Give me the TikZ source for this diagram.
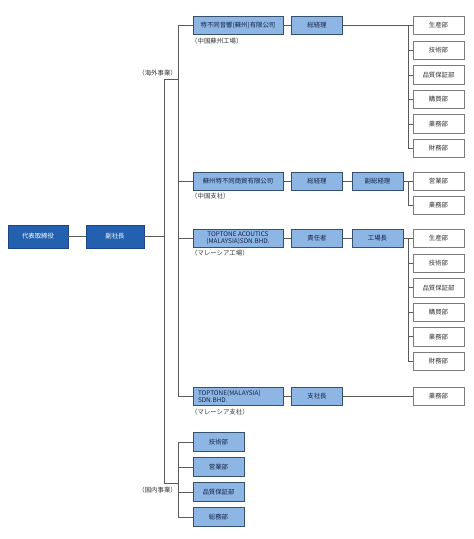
\documentclass[tikz,border=0pt]{standalone}
\usepackage{fontspec}
\setmainfont{Noto Sans CJK JP}
\definecolor{dkblue}{RGB}{35,96,176}
\definecolor{dkedge}{RGB}{30,70,130}
\definecolor{ltblue}{RGB}{141,182,228}
\definecolor{ltedge}{RGB}{55,80,110}
\definecolor{navy}{RGB}{20,35,70}
\definecolor{linec}{RGB}{90,90,90}
\begin{document}
\begin{tikzpicture}[x=1pt,y=-1pt,
  box/.style={draw, inner sep=0pt, minimum height=18.5pt, font=\fontsize{6.4}{6.8}\selectfont, line width=0.8pt},
  dark/.style={box, fill=dkblue, draw=dkedge, text=white, minimum height=23pt},
  light/.style={box, fill=ltblue, draw=ltedge, text=navy},
  wbox/.style={box, fill=white, draw=linec!80, text=black!80, minimum width=51pt, line width=0.6pt},
  lbl/.style={font=\fontsize{6.4}{7}\selectfont, text=black!80, inner sep=0pt},
  conn/.style={draw=linec, line width=0.9pt}]
\useasboundingbox (0,0) rectangle (474,539);

% top management
\node[dark, minimum width=60pt] (ceo) at (38,236.5) {代表取締役};
\node[dark, minimum width=58pt] (vp) at (115,236.5) {副社長};

% company 1
\node[light, minimum width=90pt] (c1) at (238,25.5) {特不同音響(蘇州)有限公司};
\node[light, minimum width=51pt] (c1gm) at (317,25.5) {総経理};
\node[wbox] (r11) at (438.5,25.5) {生産部};
\node[wbox] (r12) at (438.5,50.5) {技術部};
\node[wbox] (r13) at (438.5,75) {品質保証部};
\node[wbox] (r14) at (438.5,99.5) {購買部};
\node[wbox] (r15) at (438.5,124) {業務部};
\node[wbox] (r16) at (438.5,148.5) {財務部};
\node[lbl, anchor=west] (l1) at (191,41) {（中国蘇州工場）};

% company 2
\node[light, minimum width=90pt] (c2) at (238,181.5) {蘇州特不同商貿有限公司};
\node[light, minimum width=51pt] (c2gm) at (317,181.5) {総経理};
\node[light, minimum width=51pt] (c2vgm) at (377.5,181.5) {副総経理};
\node[wbox] (r21) at (438.5,181.5) {営業部};
\node[wbox] (r22) at (438.5,205.5) {業務部};
\node[lbl, anchor=west] (l2) at (191,196) {（中国支社）};

% company 3
\node[light, minimum width=90pt, align=center] (c3) at (238,238.5) {TOPTONE ACOUTICS\\(MALAYSIA)SDN.BHD.};
\node[light, minimum width=51pt] (c3r) at (317,238.5) {責任者};
\node[light, minimum width=51pt] (c3f) at (377.5,238.5) {工場長};
\node[wbox] (r31) at (438.5,238.5) {生産部};
\node[wbox] (r32) at (438.5,263.1) {技術部};
\node[wbox] (r33) at (438.5,287.7) {品質保証部};
\node[wbox] (r34) at (438.5,312.3) {購買部};
\node[wbox] (r35) at (438.5,336.9) {業務部};
\node[wbox] (r36) at (438.5,361.5) {財務部};
\node[lbl, anchor=west] (l3) at (191,253) {（マレーシア工場）};

% company 4
\node[light, minimum width=90pt, align=left, text width=80pt] (c4) at (238,396.5) {TOPTONE(MALAYSIA)\\SDN.BHD.};
\node[light, minimum width=51pt] (c4b) at (317,396.5) {支社長};
\node[wbox] (r41) at (438.5,396.5) {業務部};
\node[lbl, anchor=west] (l4) at (191,412) {（マレーシア支社）};

% domestic
\node[light, minimum width=51pt] (d1) at (218.5,442) {技術部};
\node[light, minimum width=51pt] (d2) at (218.5,467) {営業部};
\node[light, minimum width=51pt] (d3) at (218.5,492) {品質保証部};
\node[light, minimum width=51pt] (d4) at (218.5,517) {総務部};

% labels for divisions
\node[lbl, anchor=east] (ov) at (177,73) {（海外事業）};
\node[lbl, anchor=east] (dm) at (177,490) {（国内事業）};

% coordinates
\coordinate (m0) at (164,79);
\coordinate (m1) at (164,483);
\coordinate (mv) at (164,236.5);
\coordinate (o0) at (178,79);
\coordinate (otop) at (178,25.5);
\coordinate (obot) at (178,396.5);
\coordinate (d0) at (178,483);
\coordinate (dtop) at (178,442);
\coordinate (dbot) at (178,517);

% connectors
\path[conn] (ceo) -- (vp);
\path[conn] (vp) -- (mv);
\path[conn] (m0) -- (m1);
\path[conn] (m0) -- (o0);
\path[conn] (m1) -- (d0);
\path[conn] (otop) -- (obot);
\path[conn] (dtop) -- (dbot);
\foreach \n in {c1,c2,c3,c4} \path[conn] (178,0 |- \n.west) -- (\n.west);
\foreach \n in {d1,d2,d3,d4} \path[conn] (178,0 |- \n.west) -- (\n.west);

\path[conn] (c1) -- (c1gm);
\path[conn] (c2) -- (c2gm);
\path[conn] (c2gm) -- (c2vgm);
\path[conn] (c3) -- (c3r);
\path[conn] (c3r) -- (c3f);
\path[conn] (c4) -- (c4b);
\path[conn] (c4b) -- (r41);

% right brackets
\path[conn] (c1gm.east) -- (r11.west);
\path[conn] (408,0 |- r11.west) -- (408,0 |- r16.west);
\foreach \n in {r12,r13,r14,r15,r16} \path[conn] (408,0 |- \n.west) -- (\n.west);
\path[conn] (c2vgm.east) -- (408,0 |- c2vgm.east);
\path[conn] (408,0 |- r21.west) -- (408,0 |- r22.west);
\foreach \n in {r21,r22} \path[conn] (408,0 |- \n.west) -- (\n.west);
\path[conn] (c3f.east) -- (408,0 |- c3f.east);
\path[conn] (408,0 |- r31.west) -- (408,0 |- r36.west);
\foreach \n in {r31,r32,r33,r34,r35,r36} \path[conn] (408,0 |- \n.west) -- (\n.west);
\end{tikzpicture}
\end{document}
